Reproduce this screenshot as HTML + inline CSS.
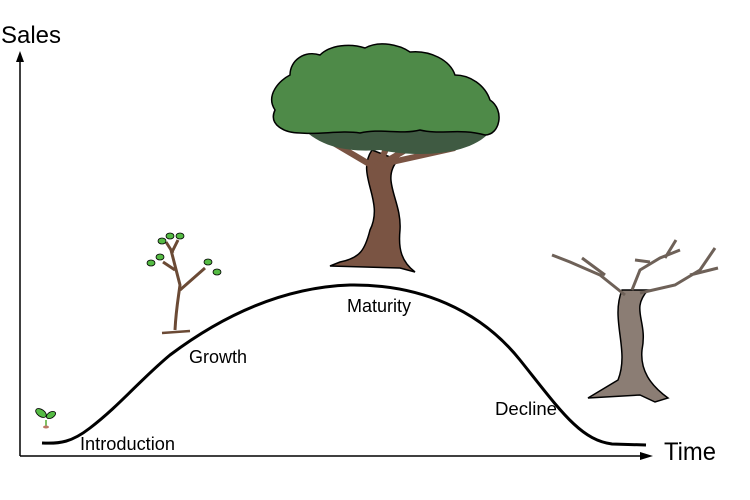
<!DOCTYPE html>
<html><head><meta charset="utf-8"><style>
html,body{margin:0;padding:0;background:#fff;}
svg{display:block;}
text{font-family:"Liberation Sans",sans-serif;fill:#000;}
</style></head><body>
<svg width="750" height="500" viewBox="0 0 750 500" xmlns="http://www.w3.org/2000/svg">
<line x1="20" y1="60" x2="20" y2="456" stroke="#000" stroke-width="1.5"/>
<polygon points="20,51 16,62 24,62" fill="#000"/>
<line x1="20" y1="456" x2="642" y2="456" stroke="#000" stroke-width="1.5"/>
<polygon points="653,456 640,452 640,460" fill="#000"/>
<text x="1" y="43" font-size="24" textLength="60" lengthAdjust="spacingAndGlyphs">Sales</text>
<text x="664" y="460" font-size="25" textLength="52" lengthAdjust="spacingAndGlyphs">Time</text>
<path d="M42,443 C60,444 72,442 90,428 C120,405 140,380 170,355 C230,310 290,287 350,285 C420,284 480,310 520,360 C560,410 580,440 612,444 L646,445" fill="none" stroke="#000" stroke-width="3"/>
<text x="80" y="450" font-size="18" textLength="95" lengthAdjust="spacingAndGlyphs">Introduction</text>
<text x="189" y="363" font-size="18" textLength="58" lengthAdjust="spacingAndGlyphs">Growth</text>
<text x="347" y="312" font-size="18" textLength="64" lengthAdjust="spacingAndGlyphs">Maturity</text>
<text x="495" y="415" font-size="18" textLength="62" lengthAdjust="spacingAndGlyphs">Decline</text>
<path d="M46,426 L46,420" stroke="#5a3" stroke-width="1.5"/>
<ellipse cx="41" cy="413" rx="6" ry="3.5" fill="#5b4" stroke="#000" stroke-width="0.8" transform="rotate(35 41 413)"/>
<ellipse cx="51" cy="415" rx="5" ry="3" fill="#5b4" stroke="#000" stroke-width="0.8" transform="rotate(-30 51 415)"/>
<ellipse cx="46" cy="427" rx="3" ry="1.5" fill="#b76"/>
<path d="M175,330 C176,310 178,300 180,285 L171,250 M180,290 L205,268 M175,270 L163,262 M173,253 L166,242 M172,252 L178,240" stroke="#6b4a35" stroke-width="3" fill="none"/>
<path d="M162,333 L190,331" stroke="#6b4a35" stroke-width="2.5"/>
<g fill="#5b4" stroke="#000" stroke-width="0.8">
<ellipse cx="162" cy="241" rx="4" ry="3"/><ellipse cx="170" cy="236" rx="4" ry="3"/><ellipse cx="180" cy="236" rx="4" ry="3"/>
<ellipse cx="151" cy="263" rx="4" ry="3"/><ellipse cx="160" cy="257" rx="4" ry="3"/><ellipse cx="208" cy="262" rx="4" ry="3"/><ellipse cx="217" cy="272" rx="4" ry="3"/>
</g>
<path d="M372,150 C355,175 385,200 370,230 C365,250 360,258 340,262 L330,266 L400,268 L415,272 C402,262 398,250 400,230 C402,200 380,180 398,160 Z" fill="#7a5443" stroke="#000" stroke-width="1.5"/>
<path d="M376,168 L320,135 M385,162 L440,130 M380,162 L395,130 M392,162 L455,148" stroke="#7a5443" stroke-width="6" fill="none"/>
<path d="M300,125 C320,150 355,152 380,150 C420,158 470,155 490,132 Z" fill="#3f5a42"/>
<path d="M275,110 C265,95 280,80 290,75 C290,60 305,50 320,55 C330,45 350,43 365,48 C380,40 400,45 410,52 C430,50 450,60 455,75 C470,75 485,85 490,100 C505,110 500,135 485,135 C460,128 440,135 420,130 C400,135 380,128 360,133 C340,130 320,135 300,133 C285,133 268,125 275,110 Z" fill="#4e8a48" stroke="#000" stroke-width="1.5"/>
<path d="M622,290 C610,320 630,350 618,380 L588,398 L640,395 L655,402 L668,398 C650,385 640,370 642,350 C648,320 630,310 648,290 Z" fill="#8b7d74" stroke="#000" stroke-width="1.5"/>
<path d="M625,295 L600,275 L570,262 L552,255 M605,275 L582,258 M640,293 L675,285 L700,270 L715,248 M690,275 L718,268 M632,290 L640,270 L660,258 L680,250 M650,262 L635,260 M665,258 L676,240" stroke="#6e6158" stroke-width="3" fill="none"/>
</svg>
</body></html>
